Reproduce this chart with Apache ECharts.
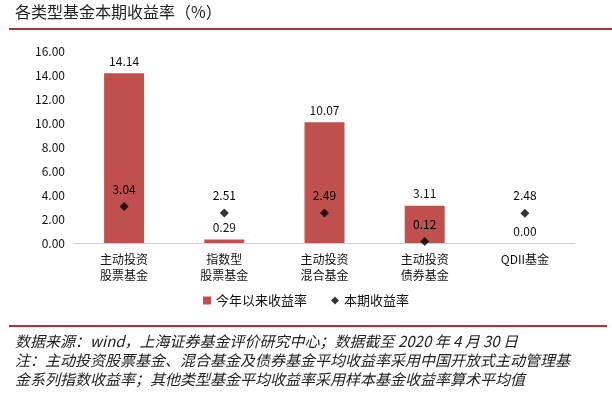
<!DOCTYPE html>
<html><head><meta charset="utf-8">
<script src="https://cdn.jsdelivr.net/npm/echarts@6/dist/echarts.min.js"></script>
<style>html,body{margin:0;padding:0;background:#fff}#c{width:612px;height:403px}</style>
</head><body><div id="c"></div>
<script>
const categories = ['主动投资\n股票基金', '指数型\n股票基金', '主动投资\n混合基金', '主动投资\n债券基金', 'QDII基金'];
const ytdReturn = [14.14, 0.29, 10.07, 3.11, 0.00];
const periodReturn = [3.04, 2.51, 2.49, 0.12, 2.48];
const seriesNames = ['今年以来收益率', '本期收益率'];
const titleText = '各类型基金本期收益率（%）';
const noteLines = [
  '数据来源：wind，上海证券基金评价研究中心；数据截至 2020 年 4 月 30 日',
  '注：主动投资股票基金、混合基金及债券基金平均收益率采用中国开放式主动管理基',
  '金系列指数收益率；其他类型基金平均收益率采用样本基金收益率算术平均值'
];
const font = '"Noto Sans CJK SC", "Noto Sans", sans-serif';
const chart = echarts.init(document.getElementById('c'));
chart.setOption({
  backgroundColor: '#fff',
  animation: false,
  textStyle: {fontFamily: font},
  grid: {left: 74, right: 37, top: 51, bottom: 160},
  legend: {
    data: [{name: seriesNames[0], icon: 'rect'}, {name: seriesNames[1], icon: 'diamond'}],
    left: 'center', top: 289, itemWidth: 8, itemHeight: 8, itemGap: 24,
    textStyle: {fontSize: 13, color: '#111', fontFamily: font}
  },
  xAxis: {
    type: 'category', data: categories,
    axisLine: {lineStyle: {color: '#d0d0d0', width: 1}},
    axisTick: {show: false},
    axisLabel: {fontSize: 12, color: '#111', lineHeight: 16, margin: 8, interval: 0}
  },
  yAxis: {
    type: 'value', min: 0, max: 16, interval: 2,
    axisLine: {show: false}, axisTick: {show: false}, splitLine: {show: false},
    axisLabel: {fontSize: 12, color: '#111', margin: 9, formatter: v => v.toFixed(2)}
  },
  series: [
    {
      name: seriesNames[0], type: 'bar', data: ytdReturn, barWidth: 40,
      itemStyle: {color: '#c0504d'},
      label: {show: true, position: 'top', distance: 6, fontSize: 12, color: '#111', formatter: p => p.value.toFixed(2)}
    },
    {
      name: seriesNames[1], type: 'scatter', data: periodReturn, symbol: 'diamond', symbolSize: 9,
      itemStyle: {color: '#000'}, z: 5,
      label: {show: true, position: 'top', distance: 7, fontSize: 12, color: '#000', opacity: 1, formatter: p => p.value.toFixed(2)},
      emphasis: {disabled: true}
    }
  ],
  graphic: [
    {type: 'text', left: 15, top: 4, style: {text: titleText, fontSize: 16, fill: '#222', fontFamily: font}},
    {type: 'rect', shape: {x: 9, y: 28, width: 603, height: 2}, style: {fill: '#a8353a'}},
    {type: 'rect', shape: {x: 9, y: 325, width: 598, height: 2}, style: {fill: '#a8353a'}},
    {type: 'text', left: 15, top: 334, style: {text: noteLines[0], fontSize: 15, fontStyle: 'italic', fill: '#222', fontFamily: font}},
    {type: 'text', left: 15, top: 353, style: {text: noteLines[1], fontSize: 15, fontStyle: 'italic', fill: '#222', fontFamily: font}},
    {type: 'text', left: 15, top: 372, style: {text: noteLines[2], fontSize: 15, fontStyle: 'italic', fill: '#222', fontFamily: font}}
  ]
});
</script></body></html>
